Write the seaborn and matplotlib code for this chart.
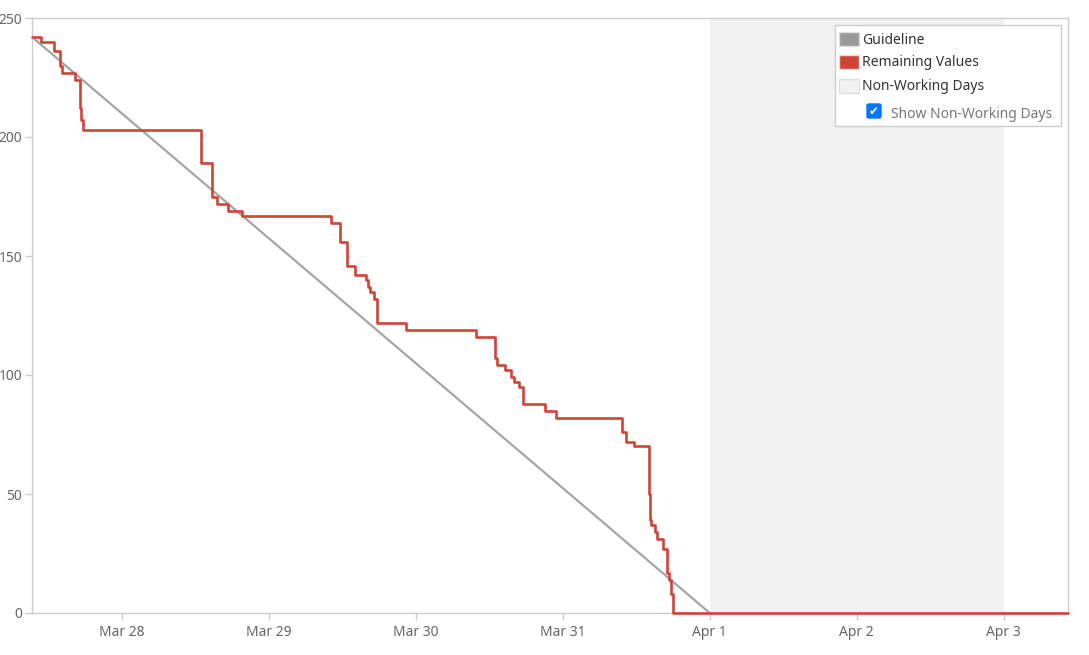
import pandas as pd
import seaborn as sns
import matplotlib.pyplot as plt
import matplotlib.dates as mdates
from matplotlib.patches import Rectangle, FancyBboxPatch

# remaining values (step changes)
times = ['2023-03-27 09:20', '2023-03-27 10:44', '2023-03-27 12:54', '2023-03-27 13:50',
         '2023-03-27 14:15', '2023-03-27 16:17', '2023-03-27 17:08', '2023-03-27 17:23',
         '2023-03-27 17:38', '2023-03-28 12:54', '2023-03-28 14:39', '2023-03-28 15:28',
         '2023-03-28 17:21', '2023-03-28 19:33', '2023-03-29 10:12', '2023-03-29 11:35',
         '2023-03-29 12:51', '2023-03-29 14:02', '2023-03-29 15:50', '2023-03-29 16:10',
         '2023-03-29 16:32', '2023-03-29 17:08', '2023-03-29 17:41', '2023-03-29 22:22',
         '2023-03-30 09:48', '2023-03-30 12:59', '2023-03-30 13:11', '2023-03-30 14:32',
         '2023-03-30 15:37', '2023-03-30 16:05', '2023-03-30 16:52', '2023-03-30 17:31',
         '2023-03-30 21:04', '2023-03-30 22:52', '2023-03-31 09:45', '2023-03-31 10:24',
         '2023-03-31 11:38', '2023-03-31 14:05', '2023-03-31 14:17', '2023-03-31 14:29',
         '2023-03-31 15:01', '2023-03-31 15:21', '2023-03-31 16:23', '2023-03-31 17:02',
         '2023-03-31 17:23', '2023-03-31 17:38', '2023-03-31 18:00', '2023-04-03 10:30']
remaining = [242, 240, 236, 230, 227, 224, 212, 207, 203, 189, 175, 172, 169, 167, 164, 156,
             146, 142, 140, 137, 135, 132, 122, 119, 116, 107, 104, 102, 99, 97, 95, 88,
             85, 82, 76, 72, 70, 50, 39, 37, 34, 31, 27, 17, 14, 8, 0, 0]

guide_times = ['2023-03-27 09:20', '2023-04-01 00:00']
guide_values = [242, 0]

non_working_days = ['2023-04-01', '2023-04-02']

legend_labels = ['Guideline', 'Remaining Values', 'Non-Working Days']
legend_colors = ['#999999', '#d04437', '#f1f1f1']

burn = pd.DataFrame({'time': pd.to_datetime(times), 'remaining': remaining})
guide = pd.DataFrame({'time': pd.to_datetime(guide_times), 'value': guide_values})

sns.set_theme(style='white')
plt.rcParams['font.family'] = ['Noto Sans', 'DejaVu Sans']

W, H = 1089, 655
fig = plt.figure(figsize=(W / 100, H / 100), dpi=100)
ax = fig.add_axes([32 / W, 1 - 613 / H, 1036 / W, 595 / H])

nw_start = pd.Timestamp(non_working_days[0])
nw_end = pd.Timestamp(non_working_days[-1]) + pd.Timedelta(days=1)
ax.axvspan(nw_start, nw_end, color='#f1f1f1', zorder=0, lw=0)

sns.lineplot(data=guide, x='time', y='value', color='#a5a5a5', linewidth=1.6, ax=ax, zorder=2)
sns.lineplot(data=burn, x='time', y='remaining', color='#d04437', linewidth=1.9,
             drawstyle='steps-post', ax=ax, zorder=3, clip_on=False)

ax.set_xlim(pd.Timestamp('2023-03-27 09:20'), pd.Timestamp('2023-04-03 10:30'))
ax.set_ylim(0, 250)
ax.set_yticks(range(0, 251, 50))
ax.xaxis.set_major_locator(mdates.DayLocator())
ax.xaxis.set_major_formatter(plt.FuncFormatter(
    lambda v, p: mdates.num2date(v).strftime('%b ') + str(mdates.num2date(v).day)))
ax.set_xlabel('')
ax.set_ylabel('')

for s in ax.spines.values():
    s.set_color('#cccccc')
    s.set_linewidth(1)
ax.tick_params(axis='both', colors='#cccccc', labelcolor='#666666', labelsize=10,
               length=5, width=1, direction='out', left=True, bottom=True, pad=4)
ax.tick_params(axis='y', pad=2)


def fx(x):
    return x / W


def fy(y):
    return 1 - y / H


# legend box drawn by hand to match the original layout
fig.patches.append(Rectangle((fx(835), fy(126)), fx(226), 101 / H, transform=fig.transFigure,
                             facecolor='white', edgecolor='#cccccc', lw=1, zorder=5))
rows = [40, 63, 87]
for yy, lab, col in zip(rows, legend_labels, legend_colors):
    fig.patches.append(Rectangle((fx(839), fy(yy + 6)), fx(20), 14 / H, transform=fig.transFigure,
                                 facecolor=col, edgecolor='#dddddd', lw=1, zorder=6))
    fig.text(fx(862), fy(yy), lab, fontsize=10, color='#333333', va='center', ha='left', zorder=6)

fig.patches.append(FancyBboxPatch((fx(867), fy(118)), fx(14), 14 / H,
                                  boxstyle='round,pad=0,rounding_size=0.002',
                                  transform=fig.transFigure, facecolor='#0075ff',
                                  edgecolor='#0075ff', lw=1, zorder=6))
fig.text(fx(874), fy(111), '\u2714', fontsize=8.5, color='white', ha='center', va='center',
         family='DejaVu Sans', zorder=7)
fig.text(fx(891), fy(114), 'Show Non-Working Days', fontsize=10, color='#777777',
         va='center', ha='left', zorder=6)

fig.savefig('out.png', dpi=100)
